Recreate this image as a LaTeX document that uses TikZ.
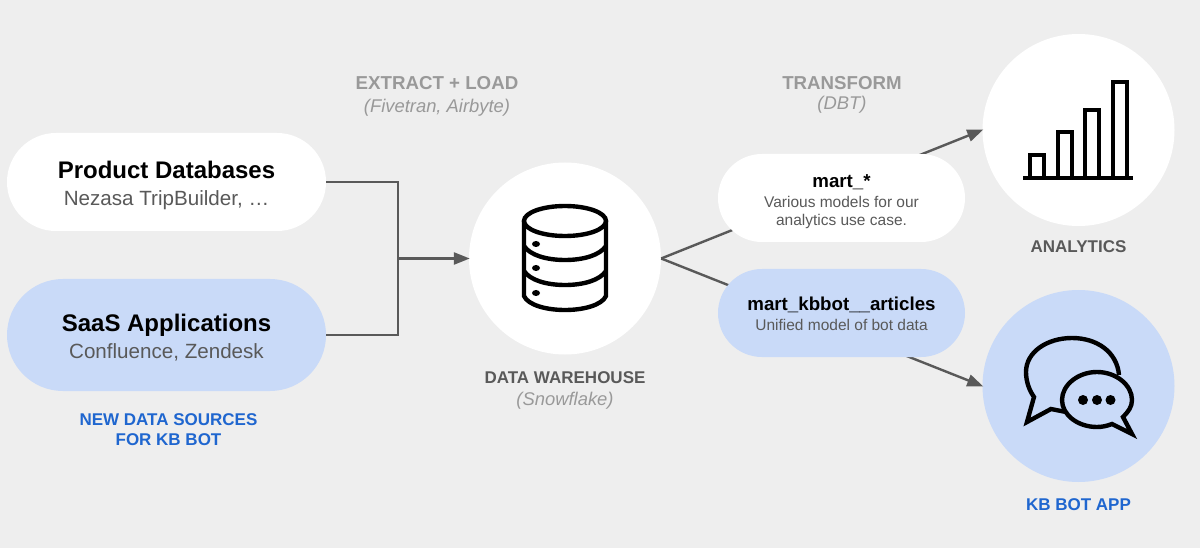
\documentclass[tikz,border=0pt]{standalone}
\usepackage{fontspec}
\setmainfont{Liberation Sans}
\usetikzlibrary{arrows.meta,positioning}
\definecolor{bgcol}{HTML}{EEEEEE}
\definecolor{bluefill}{HTML}{C9DAF8}
\definecolor{darkcol}{HTML}{595959}
\definecolor{lightcol}{HTML}{999999}
\definecolor{bluetext}{HTML}{1F66CF}
\tikzset{
  hub/.style={circle,minimum size=192pt,inner sep=0pt,fill=#1},
  bigpill/.style={rounded corners=49pt,minimum width=319pt,minimum height=98pt,inner sep=0pt,align=center,fill=#1,font=\fontsize{20}{27}\selectfont},
  martpill/.style={rounded corners=44pt,minimum width=247pt,minimum height=88pt,inner sep=0pt,align=center,fill=#1,font=\fontsize{15}{18}\selectfont},
  link/.style={draw=darkcol,line width=2.4pt},
  head/.style={link,shorten >=-1pt,-{Triangle[length=16pt,width=12pt]}},
  icon/.style={line width=4.4pt,line join=miter,black},
  grey/.style={font=\fontsize{18.7}{22}\selectfont\bfseries,text=lightcol},
  greyit/.style={font=\fontsize{18.4}{22}\selectfont\itshape,text=lightcol},
  dark/.style={font=\fontsize{17}{20}\selectfont\bfseries,text=darkcol},
  bluelab/.style={font=\fontsize{17}{20}\selectfont\bfseries,text=bluetext,align=center},
}
\newcommand{\bigtitle}[1]{{\fontsize{24}{28}\selectfont\bfseries #1}}
\newcommand{\bigsub}[1]{{\fontsize{20.6}{24}\selectfont\color{darkcol} #1}}
\newcommand{\marttitle}[1]{{\fontsize{18.7}{22}\selectfont\bfseries #1}}
\newcommand{\martsub}[1]{{\fontsize{15.5}{18}\selectfont\color{darkcol} #1}}
\begin{document}
\begin{tikzpicture}[x=1pt,y=1pt,on grid]
   \fill[bgcol,use as bounding box] (0,0) rectangle (1200,-548);
   % hubs
   \node[hub=white] (dwh) at (565,-258.5) {};
   \node[hub=white] (analytics) at (1078.5,-130) {};
   \node[hub=bluefill] (bot) at (1078.5,-386) {};
   \coordinate (join) at (398,-258.5);
   % links run behind the pills
   \draw[head] (dwh.east) -- (analytics.west);
   \draw[head] (dwh.east) -- (bot.west);
   % pills
   \node[bigpill=white] (prod) at (166.5,-182) {\rule{0pt}{24pt}\bigtitle{Product Databases}\\\bigsub{Nezasa TripBuilder, …}};
   \node[bigpill=bluefill,minimum height=112pt,rounded corners=56pt] (saas) at (166.5,-335) {\rule{0pt}{22pt}\bigtitle{SaaS Applications}\\\bigsub{Confluence, Zendesk}};
   \node[martpill=white] (mart) at (841.5,-198) {\rule{0pt}{19.6pt}\marttitle{mart\_*}\\[2pt]\martsub{Various models for our}\\\martsub{analytics use case.}};
   \node[martpill=bluefill] (kbbot) at (841.5,-313) {\rule{0pt}{15.6pt}\marttitle{mart\_kbbot\_\_articles}\\[2pt]\martsub{Unified model of bot data}};
   \draw[link] (prod.east) -| (join);
   \draw[link] (saas.east) -| (join);
   \draw[head] (join) -- (dwh.west);
   % labels
   \node[grey] (el) at (437,-83) {EXTRACT + LOAD};
   \node[greyit,below=25pt of el] (elsub) {(Fivetran, Airbyte)};
   \node[grey] (tr) at (842,-83) {TRANSFORM};
   \node[greyit,below=22pt of tr] (trsub) {(DBT)};
   \node[dark,below=119.5pt of dwh] (dwhlab) {DATA WAREHOUSE};
   \node[greyit,below=23pt of dwhlab] (dwhsub) {(Snowflake)};
   \node[dark,below=117pt of analytics] (analab) {ANALYTICS};
   \node[bluelab,below=119pt of bot] (botlab) {KB BOT APP};
   \node[bluelab,below=95pt of saas,xshift=2pt] (newlab) {NEW DATA SOURCES\\FOR KB BOT};
   % database icon
   \draw[icon] (565,-221) ellipse [x radius=41,y radius=15];
   \draw[icon,line cap=round] (524,-221) -- (524,-296)
     .. controls (528,-305) and (546,-310) .. (565,-310)
     .. controls (584,-310) and (602,-305) .. (606,-296) -- (606,-221);
   \draw[icon] (524,-246) .. controls (530,-255) and (546,-260) .. (565,-260) .. controls (584,-260) and (600,-255) .. (606,-246);
   \draw[icon] (524,-271) .. controls (530,-280) and (546,-285) .. (565,-285) .. controls (584,-285) and (600,-280) .. (606,-271);
   \foreach \dy in {244,268,293}
     \fill[black] (536,-\dy) ellipse [x radius=4,y radius=3];
   % bars icon
   \draw[icon] (1023,-178) -- (1133,-178);
   \foreach \bx/\btop in {1030/155,1058/132,1085/110,1113/82}
     \draw[icon] (\bx,-178) |- (\bx+14,-\btop) -- (\bx+14,-178);
   % chat icon
   \draw[icon] (1119,-375) .. controls (1117,-352) and (1097,-338) .. (1072,-338)
     .. controls (1047,-338) and (1026,-352) .. (1026,-372)
     .. controls (1026,-381) and (1029,-390) .. (1034,-397)
     -- (1027,-422) -- (1051,-409) -- (1066,-412);
   \draw[icon] (1112,-424) .. controls (1107,-426) and (1102,-427) .. (1097,-427)
     .. controls (1078,-427) and (1062,-415) .. (1062,-400)
     .. controls (1062,-385) and (1078,-372) .. (1097,-372)
     .. controls (1116,-372) and (1132,-385) .. (1132,-400)
     .. controls (1132,-407) and (1128,-412) .. (1123,-417)
     -- (1132,-434) -- cycle;
   \foreach \cx in {1083,1097,1110.5}
     \fill[black] (\cx,-400) circle (5);
\end{tikzpicture}
\end{document}
